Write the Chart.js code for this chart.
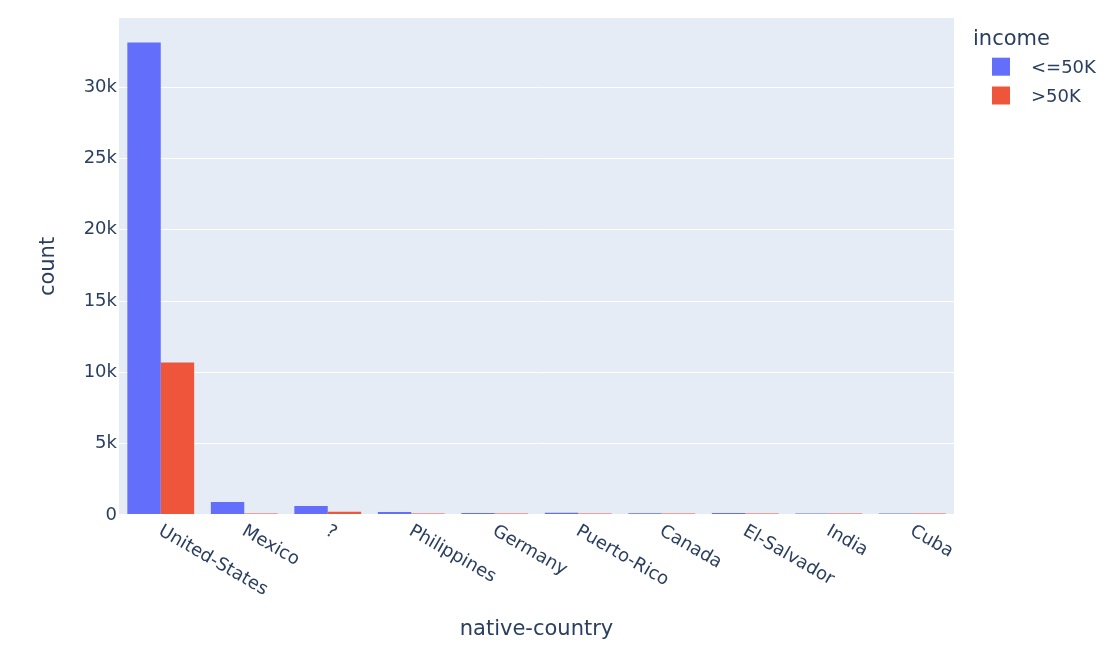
<!DOCTYPE html>
<html>
<head>
<meta charset="utf-8">
<script src="https://cdn.jsdelivr.net/npm/chart.js@4.4.1/dist/chart.umd.min.js"></script>
<style>
  html, body { margin: 0; padding: 0; background: #ffffff; }
  canvas { display: block; }
</style>
</head>
<body>
<canvas id="chart" width="1113" height="657"></canvas>
<script>
// counts per native country, split by income group
const countries = ['United-States', 'Mexico', '?', 'Philippines', 'Germany',
  'Puerto-Rico', 'Canada', 'El-Salvador', 'India', 'Cuba'];
const lowIncome = [33138, 903, 635, 203, 148, 164, 119, 144, 91, 104];
const highIncome = [10694, 48, 222, 92, 58, 20, 63, 11, 60, 34];
const seriesNames = ['<=50K', '>50K'];
const seriesColors = ['#636EFA', '#EF553B'];
const legendTitle = 'income';
const yTicks = [0, 5000, 10000, 15000, 20000, 25000, 30000];
const yMax = 34850;

const textColor = '#2a3f5f';
const fontFamily = '"DejaVu Sans", Verdana, sans-serif';

// light blue-grey panel behind the bars
const plotBackground = {
  id: 'plotBackground',
  beforeDraw(chart) {
    const { ctx, chartArea: a } = chart;
    ctx.save();
    ctx.fillStyle = '#E5ECF6';
    ctx.fillRect(a.left, a.top, a.right - a.left, a.bottom - a.top);
    ctx.restore();
  }
};

// category labels turned 30 degrees clockwise, starting at the tick
const slantedLabels = {
  id: 'slantedLabels',
  afterDraw(chart) {
    const { ctx } = chart;
    const xs = chart.scales.x;
    ctx.save();
    ctx.font = '18px ' + fontFamily;
    ctx.fillStyle = textColor;
    ctx.textAlign = 'left';
    ctx.textBaseline = 'alphabetic';
    countries.forEach((name, i) => {
      const px = xs.getPixelForValue(i);
      ctx.save();
      ctx.translate(px - 3.2, xs.top + 19);
      ctx.rotate(Math.PI / 6);
      ctx.fillText(name, 0, 0);
      ctx.restore();
    });
    ctx.restore();
  }
};

// legend on the right, drawn the plotly way
const sideLegend = {
  id: 'sideLegend',
  afterDraw(chart) {
    const { ctx } = chart;
    ctx.save();
    ctx.fillStyle = textColor;
    ctx.textAlign = 'left';
    ctx.textBaseline = 'alphabetic';
    ctx.font = '21px ' + fontFamily;
    ctx.fillText(legendTitle, 973, 45);
    ctx.font = '18px ' + fontFamily;
    seriesNames.forEach((name, i) => {
      const cy = 66.7 + i * 28.8;
      ctx.fillStyle = seriesColors[i];
      ctx.fillRect(992, cy - 9, 18, 18);
      ctx.fillStyle = textColor;
      ctx.fillText(name, 1031, cy + 6.6);
    });
    ctx.restore();
  }
};

new Chart(document.getElementById('chart'), {
  type: 'bar',
  data: {
    labels: countries,
    datasets: [
      { label: seriesNames[0], data: lowIncome, backgroundColor: seriesColors[0], borderWidth: 0 },
      { label: seriesNames[1], data: highIncome, backgroundColor: seriesColors[1], borderWidth: 0 }
    ]
  },
  options: {
    responsive: false,
    animation: false,
    layout: { padding: { left: 0, top: 18, right: 159, bottom: 0 } },
    datasets: { bar: { categoryPercentage: 0.8, barPercentage: 1.0, minBarLength: 1.5 } },
    plugins: {
      legend: { display: false },
      tooltip: { enabled: false }
    },
    scales: {
      x: {
        grid: { display: false },
        border: { display: false },
        ticks: { display: false },
        title: {
          display: true,
          text: 'native-country',
          color: textColor,
          font: { family: fontFamily, size: 21 },
          padding: { top: 0, bottom: 15 }
        },
        afterFit(scale) { scale.height = 142; }
      },
      y: {
        min: 0,
        max: yMax,
        border: { display: false },
        grid: {
          color: '#ffffff',
          lineWidth: (c) => (c.tick && c.tick.value === 0 ? 2 : 1),
          drawTicks: false
        },
        ticks: {
          padding: 2,
          color: textColor,
          font: { family: fontFamily, size: 18 },
          callback: (v) => (v === 0 ? '0' : (v / 1000) + 'k')
        },
        afterBuildTicks(scale) {
          scale.ticks = yTicks.map((v) => ({ value: v }));
        },
        title: {
          display: true,
          text: 'count',
          color: textColor,
          font: { family: fontFamily, size: 21 },
          padding: { top: 35.5, bottom: 0 }
        },
        afterFit(scale) { scale.width = 119; }
      }
    }
  },
  plugins: [plotBackground, slantedLabels, sideLegend]
});
</script>
</body>
</html>
